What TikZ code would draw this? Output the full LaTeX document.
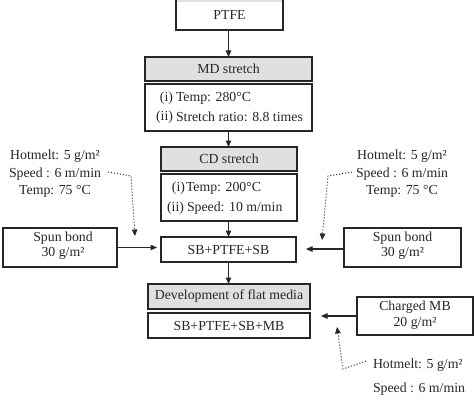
\documentclass[tikz,border=0pt]{standalone}
\usepackage{fontspec}
\setmainfont{Liberation Serif}
\usetikzlibrary{arrows.meta}
\begin{document}
\begin{tikzpicture}[x=1pt,y=-1pt,
  every node/.style={inner sep=0pt,outer sep=0pt,font=\fontsize{13.8}{16}\selectfont,text=black!85},
  box/.style={draw=black!85,line width=1.1pt,rectangle},
  gbox/.style={box,fill=black!12},
  arr/.style={draw=black!85,line width=1.1pt,-{Triangle[length=6.5pt,width=5.5pt]}},
  darr/.style={draw=black!85,line width=1pt,dotted,-{Triangle[length=6.5pt,width=5.5pt]}}]
\useasboundingbox (0,0) rectangle (474,420);
% main column
\fill[black!12] (176,0) rectangle (283,2);
\node[box,minimum width=107pt,minimum height=32pt] (ptfe) at (229.5,14) {};
\node (ptfet) at (229.5,15) {PTFE};
\node[gbox,minimum width=167pt,minimum height=24pt] (md) at (228.5,69) {MD stretch};
\node[box,minimum width=167pt,minimum height=47pt] (mdp) at (228.5,107.5) {};
\node[anchor=east] (mdp1a) at (173,98) {(i)};
\node[anchor=west] (mdp1b) at (176,98) {Temp: 280°C};
\node[anchor=east] (mdp2a) at (173,117) {(ii)};
\node[anchor=west] (mdp2b) at (176,117) {Stretch ratio: 8.8 times};
\node[gbox,minimum width=136pt,minimum height=24pt] (cd) at (229,159) {CD stretch};
\node[box,minimum width=136pt,minimum height=47pt] (cdp) at (229,197.5) {};
\node[anchor=east] (cdp1a) at (185,188) {(i)};
\node[anchor=west] (cdp1b) at (186,188) {Temp: 200°C};
\node[anchor=east] (cdp2a) at (184,208) {(ii)};
\node[anchor=west] (cdp2b) at (187,208) {Speed: 10 m/min};
\node[box,minimum width=135pt,minimum height=25pt] (sb) at (228.5,249.5) {SB+PTFE+SB};
\node[gbox,minimum width=162pt,minimum height=25pt] (dev) at (229,296.5) {Development of flat media};
\node[box,minimum width=162pt,minimum height=25pt] (sbmb) at (229,325.5) {SB+PTFE+SB+MB};
% side boxes
\node[box,minimum width=114pt,minimum height=39pt] (lsb) at (60,247.5) {};
\node[align=center,font=\fontsize{13.8}{15}\selectfont] (lsbt) at (63,245.5) {Spun bond\\30 g/m²};
\node[box,minimum width=117pt,minimum height=39pt] (rsb) at (402.5,247.5) {};
\node[align=center,font=\fontsize{13.8}{15}\selectfont] (rsbt) at (402.5,245.5) {Spun bond\\30 g/m²};
\node[box,minimum width=116pt,minimum height=38pt] (cmb) at (415,316) {};
\node[align=center,font=\fontsize{13.8}{16}\selectfont] (cmbt) at (415,315) {Charged MB\\20 g/m²};
% hotmelt texts
\node[align=center,font=\fontsize{13.8}{17.5}\selectfont] (lhm) at (55,174) {Hotmelt: 5 g/m²\\Speed : 6 m/min\\Temp: 75 °C};
\node[align=center,font=\fontsize{13.8}{17.5}\selectfont] (rhm) at (402,174) {Hotmelt: 5 g/m²\\Speed : 6 m/min\\Temp: 75 °C};
\node[anchor=west] (bhm1) at (373,365) {Hotmelt: 5 g/m²};
\node[anchor=west] (bhm2) at (373,389) {Speed : 6 m/min};
% coordinates for free ends
\coordinate (lc) at (131,176);
\coordinate (lt) at (135,236);
\coordinate (rc) at (328,176);
\coordinate (rt) at (322,240);
\coordinate (bc) at (343,369);
\coordinate (bt) at (337,327);
% main arrows
\draw[arr] (ptfe.south -| md.north) -- (md.north);
\draw[arr] (mdp.south) -- (mdp.south |- cd.north);
\draw[arr] (cdp.south -| mdp.south) -- (mdp.south |- sb.north);
\draw[arr] (sb.south -| mdp.south) -- (mdp.south |- dev.north);
% side arrows
\draw[arr,shorten >=4pt] (lsb.east) -- (lsb.east -| sb.west);
\draw[arr,shorten >=10pt] (rsb.west |- 0,249) -- (sb.east |- 0,249);
\draw[arr,shorten >=11pt] (cmb.west) -- (cmb.west -| sbmb.east);
% dotted arrows
\draw[darr] ([xshift=7pt,yshift=2pt]lhm.east) -- (lc) -- (lt);
\draw[darr] ([xshift=-4pt,yshift=2pt]rhm.west) -- (rc) -- (rt);
\draw[darr] ([xshift=-7pt,yshift=4pt]bhm1.west) -- (bc) -- (bt);
\end{tikzpicture}
\end{document}
